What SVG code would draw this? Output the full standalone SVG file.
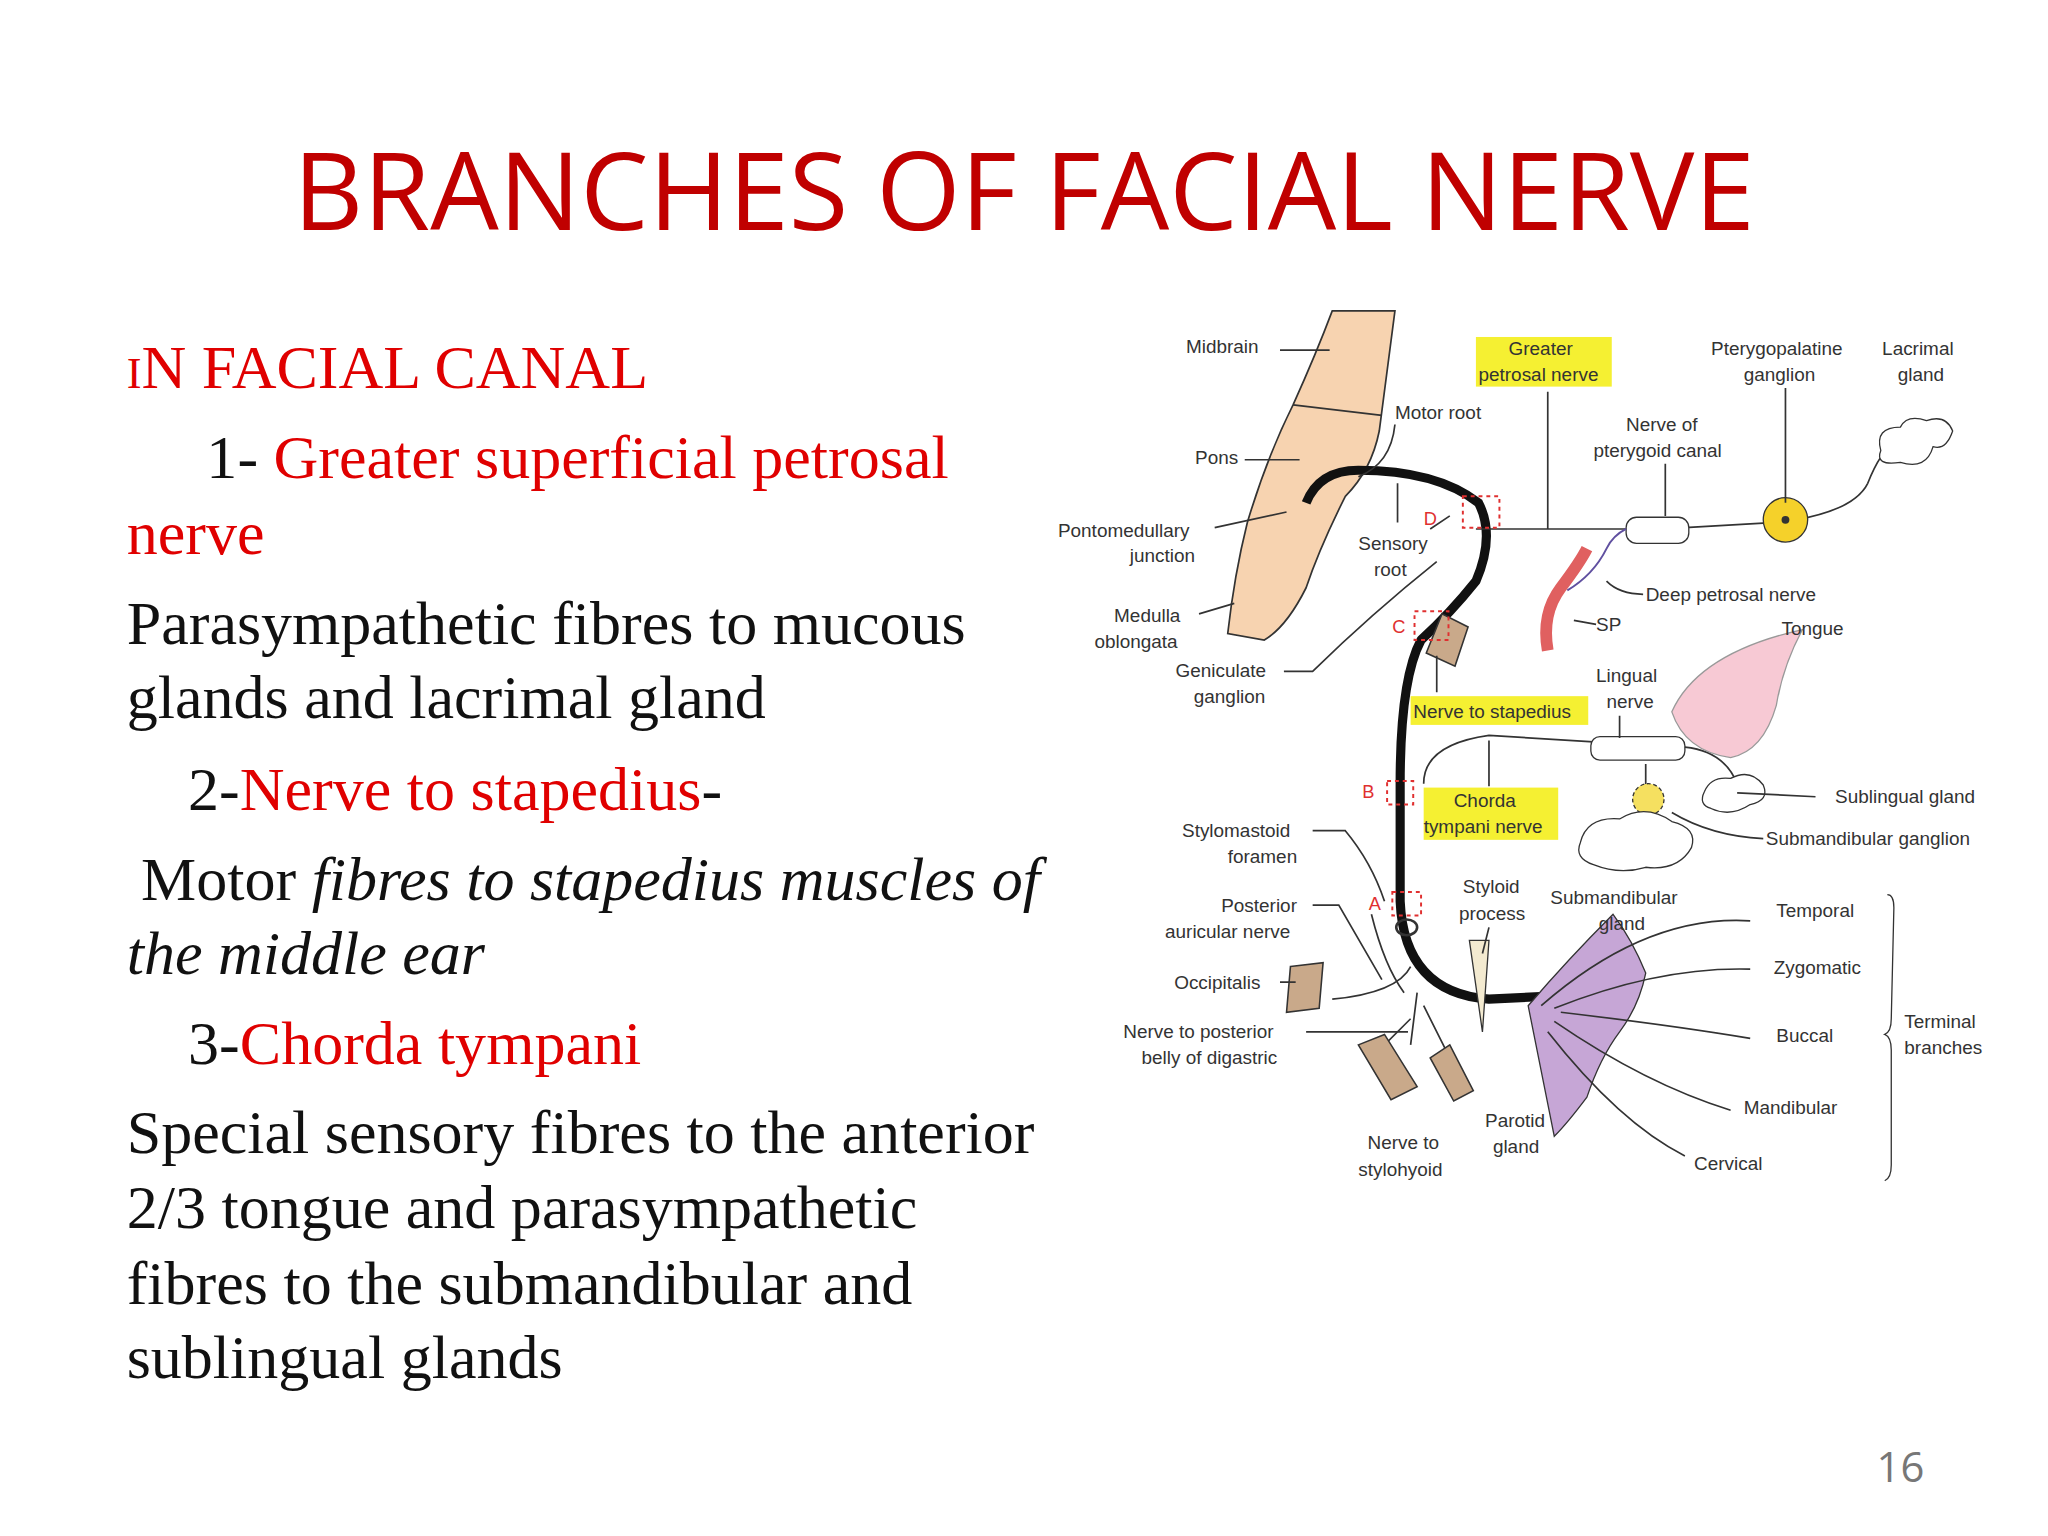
<svg xmlns="http://www.w3.org/2000/svg" width="2048" height="1536" viewBox="0 0 2048 1536">
<style>
.t{font-family:"Liberation Serif",serif;font-size:47.5px;fill:#111}
.r{fill:#e00000}
.l{font-family:"Liberation Sans",sans-serif;font-size:14.5px;fill:#333}
.ln{stroke:#333;stroke-width:1.3;fill:none}
.hl{fill:#f5f032}
.red{fill:#e03030;font-family:"Liberation Sans",sans-serif;font-size:14px}
.dash{stroke:#e03030;stroke-width:1.5;fill:none;stroke-dasharray:3 3}
.mus{stroke:#333;stroke-width:1.2;fill:#c9a98a}
</style>
<rect width="2048" height="1536" fill="#fff"/>
<g transform="scale(1.30612)">
<text x="784" y="176" text-anchor="middle" font-family="'Open Sans',sans-serif" font-size="83" fill="#c00000">BRANCHES OF FACIAL NERVE</text>
<g id="text">
<text class="t r" x="97" y="297"><tspan font-size="34">I</tspan>N FACIAL CANAL</text>
<text class="t" x="158" y="366">1- <tspan class="r">Greater superficial petrosal</tspan></text>
<text class="t r" x="97" y="424">nerve</text>
<text class="t" x="97" y="493">Parasympathetic fibres to mucous</text>
<text class="t" x="97" y="550">glands and lacrimal gland</text>
<text class="t" x="144" y="620">2-<tspan class="r">Nerve to stapedius</tspan>-</text>
<text class="t" x="108" y="689">Motor <tspan font-style="italic">fibres to stapedius muscles of</tspan></text>
<text class="t" x="97" y="746" font-style="italic">the middle ear</text>
<text class="t" x="144" y="815">3-<tspan class="r">Chorda tympani</tspan></text>
<text class="t" x="97" y="883">Special sensory fibres to the anterior</text>
<text class="t" x="97" y="940">2/3 tongue and parasympathetic</text>
<text class="t" x="97" y="998">fibres to the submandibular and</text>
<text class="t" x="97" y="1055">sublingual glands</text>
</g>
<text x="1455" y="1135" text-anchor="middle" font-family="'Open Sans',sans-serif" font-size="32" fill="#777">16</text>

<g id="brainstem">
<path d="M1020,238 L1068,238 Q1060,300 1056,330 Q1050,360 1030,380 Q1010,420 1000,450 Q985,480 968,490 L940,485 Q945,440 955,400 Q970,350 990,310 Q1008,270 1020,238 Z" fill="#f7d3b0" stroke="#333" stroke-width="1.3"/>
<path class="ln" d="M990,310 L1058,318"/>
</g>
<g id="nerves">
<path d="M1000,385 Q1010,360 1040,360 Q1100,360 1132,385 Q1145,410 1130,445 Q1110,470 1088,490 Q1072,520 1072,600 L1072,690 Q1075,760 1140,765 L1200,762" fill="none" stroke="#111" stroke-width="7"/>
<path class="ln" d="M1130,405 L1250,405 M1290,404 L1360,400 M1375,398 Q1420,390 1430,370 Q1440,345 1450,340"/>
<rect x="1245" y="396" width="48" height="20" rx="8" fill="#fff" stroke="#333"/>
<circle cx="1367" cy="398" r="17" fill="#f5d12a" stroke="#333"/>
<circle cx="1367" cy="398" r="3" fill="#333"/>
<path d="M1440,345 q-5,-18 15,-18 q5,-10 20,-5 q15,-5 20,8 q-5,15 -15,12 q-5,18 -25,12 q-20,3 -15,-9 z" fill="#fff" stroke="#333"/>
<path d="M1185,498 Q1180,470 1195,450 Q1210,430 1215,420" fill="none" stroke="#e06060" stroke-width="9"/>
<path d="M1200,452 Q1220,440 1230,420 Q1235,410 1245,405" fill="none" stroke="#6050a0" stroke-width="1.5"/>
<path class="ln" d="M1090,600 Q1090,570 1140,563 L1220,568"/>
<rect x="1218" y="564" width="72" height="18" rx="7" fill="#fff" stroke="#333"/>
<path class="ln" d="M1290,572 Q1320,575 1330,600 M1260,585 L1260,610"/>
<path d="M1280,545 Q1300,500 1380,482 Q1365,510 1360,540 Q1350,575 1325,580 Q1290,575 1280,545 Z" fill="#f7c9d4" stroke="#999"/>
<circle cx="1262" cy="612" r="12" fill="#f5e060" stroke="#333" stroke-dasharray="3 2"/>
<path d="M1305,606 q5,-12 20,-10 q15,-8 25,5 q5,12 -10,15 q-15,10 -30,3 q-10,-3 -5,-13z" fill="#fff" stroke="#333"/>
<path d="M1210,645 q5,-20 30,-18 q20,-12 40,2 q20,5 15,20 q-10,18 -35,15 q-20,6 -40,-2 q-15,-5 -10,-17z" fill="#fff" stroke="#333"/>
<path d="M1170,770 Q1200,735 1235,700 Q1250,720 1260,745 Q1255,770 1240,790 Q1225,810 1215,840 Q1200,860 1190,870 Q1180,820 1170,770 Z" fill="#c6a6d6" stroke="#333"/>
<path class="ln" d="M1180,770 Q1260,700 1340,705 M1190,772 Q1270,740 1340,742 M1195,775 Q1280,785 1340,795 M1190,782 Q1260,830 1325,850 M1185,790 Q1240,860 1290,885"/>
<path d="M1125,720 L1140,720 L1135,790 Z" fill="#f3ead0" stroke="#333"/>
<path class="ln" d="M1080,740 Q1070,760 1020,765 M1085,760 L1080,800 M1080,780 Q1060,800 1050,810 M1090,770 Q1100,790 1110,810 M1075,760 Q1060,740 1050,700"/>
<path class="mus" d="M988,740 l25,-3 l-3,35 l-25,3z"/>
<path class="mus" d="M1040,800 l20,-8 l25,40 l-20,10z"/>
<path class="mus" d="M1095,810 l15,-10 l18,35 l-15,8z"/>
<path class="mus" d="M1092,500 l12,-30 l20,10 l-10,30z"/>
<ellipse cx="1077" cy="710" rx="8" ry="6" fill="none" stroke="#333" stroke-width="2"/>
<rect class="dash" x="1120" y="380" width="28" height="24"/>
<rect class="dash" x="1083" y="468" width="26" height="22"/>
<rect class="dash" x="1062" y="598" width="20" height="18"/>
<rect class="dash" x="1066" y="683" width="22" height="18"/>
<text class="red" x="1090" y="402">D</text>
<text class="red" x="1066" y="485">C</text>
<text class="red" x="1043" y="611">B</text>
<text class="red" x="1048" y="697">A</text>
<path d="M1445,685 q5,0 5,10 L1448,780 q0,10 -5,12 q5,2 5,12 L1448,892 q0,10 -5,12" fill="none" stroke="#333"/>
</g>
<g id="labels">
<rect class="hl" x="1130" y="258" width="104" height="38"/>
<rect class="hl" x="1080" y="533" width="136" height="22"/>
<rect class="hl" x="1090" y="603" width="103" height="40"/>
<path class="ln" d="M980,268 L1018,268 M953,352 L995,352 M930,404 L985,392 M918,470 L945,462 M983,514 L1005,514 Q1050,470 1100,430 M1068,325 Q1065,355 1040,365 M1070,370 L1070,400 M1095,405 L1110,395 M1185,300 L1185,405 M1275,355 L1275,395 M1367,297 L1367,385 M1258,455 Q1240,455 1230,445 M1222,478 L1205,475 M1240,548 L1240,565 M1100,502 L1100,530 M1140,602 L1140,567 M1390,610 L1330,607 M1350,642 Q1310,640 1280,622 M1005,636 L1030,636 Q1050,660 1060,690 M1005,693 L1025,693 L1058,750 M980,752 L992,752 M1000,790 L1078,790 M1140,710 L1135,730"/>
<text class="l" x="908" y="270">Midbrain</text>
<text class="l" x="915" y="355">Pons</text>
<text class="l" x="810" y="411">Pontomedullary</text>
<text class="l" x="865" y="430">junction</text>
<text class="l" x="853" y="476">Medulla</text>
<text class="l" x="838" y="496">oblongata</text>
<text class="l" x="900" y="518">Geniculate</text>
<text class="l" x="914" y="538">ganglion</text>
<text class="l" x="1068" y="321">Motor root</text>
<text class="l" x="1040" y="421">Sensory</text>
<text class="l" x="1052" y="441">root</text>
<text class="l" x="1155" y="272">Greater</text>
<text class="l" x="1132" y="292">petrosal nerve</text>
<text class="l" x="1310" y="272">Pterygopalatine</text>
<text class="l" x="1335" y="292">ganglion</text>
<text class="l" x="1441" y="272">Lacrimal</text>
<text class="l" x="1453" y="292">gland</text>
<text class="l" x="1245" y="330">Nerve of</text>
<text class="l" x="1220" y="350">pterygoid canal</text>
<text class="l" x="1260" y="460">Deep petrosal nerve</text>
<text class="l" x="1222" y="483">SP</text>
<text class="l" x="1364" y="486">Tongue</text>
<text class="l" x="1222" y="522">Lingual</text>
<text class="l" x="1230" y="542">nerve</text>
<text class="l" x="1082" y="550">Nerve to stapedius</text>
<text class="l" x="1113" y="618">Chorda</text>
<text class="l" x="1090" y="638">tympani nerve</text>
<text class="l" x="1405" y="615">Sublingual gland</text>
<text class="l" x="1352" y="647">Submandibular ganglion</text>
<text class="l" x="905" y="641">Stylomastoid</text>
<text class="l" x="940" y="661">foramen</text>
<text class="l" x="935" y="698">Posterior</text>
<text class="l" x="892" y="718">auricular nerve</text>
<text class="l" x="899" y="757">Occipitalis</text>
<text class="l" x="860" y="795">Nerve to posterior</text>
<text class="l" x="874" y="815">belly of digastric</text>
<text class="l" x="1120" y="684">Styloid</text>
<text class="l" x="1117" y="704">process</text>
<text class="l" x="1187" y="692">Submandibular</text>
<text class="l" x="1224" y="712">gland</text>
<text class="l" x="1360" y="702">Temporal</text>
<text class="l" x="1358" y="746">Zygomatic</text>
<text class="l" x="1360" y="798">Buccal</text>
<text class="l" x="1335" y="853">Mandibular</text>
<text class="l" x="1297" y="896">Cervical</text>
<text class="l" x="1458" y="787">Terminal</text>
<text class="l" x="1458" y="807">branches</text>
<text class="l" x="1137" y="863">Parotid</text>
<text class="l" x="1143" y="883">gland</text>
<text class="l" x="1047" y="880">Nerve to</text>
<text class="l" x="1040" y="900">stylohyoid</text>
</g>
</g>
</svg>
